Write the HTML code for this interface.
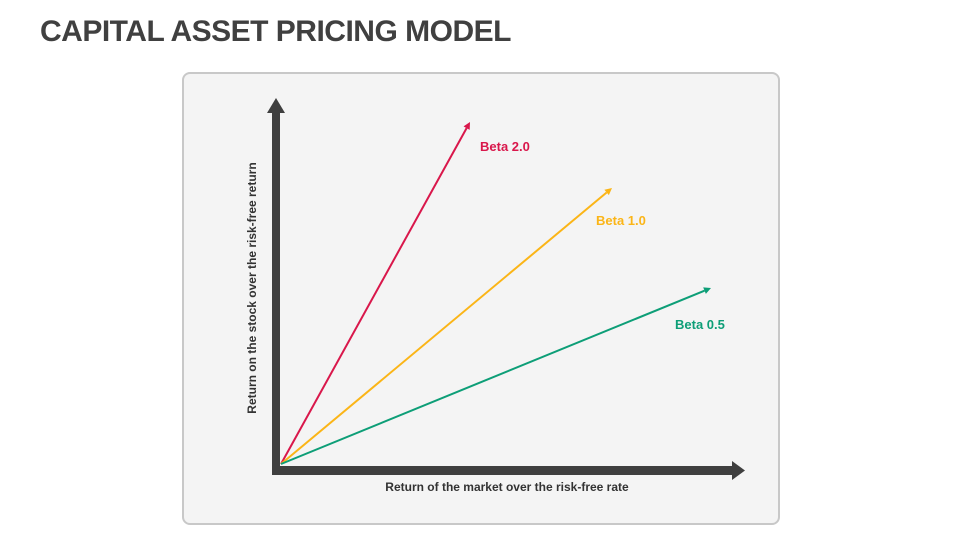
<!DOCTYPE html>
<html><head><meta charset="utf-8"><style>
body{margin:0;width:960px;height:540px;background:#fff;overflow:hidden;font-family:"Liberation Sans",sans-serif;}
#title{position:absolute;left:40px;top:15px;font-size:30px;font-weight:bold;color:#404040;letter-spacing:-0.5px;}
#panel{position:absolute;left:182px;top:72px;width:594px;height:449px;background:#f4f4f4;border:2px solid #c8c8c8;border-radius:8px;}
</style></head><body>
<div id="title">CAPITAL ASSET PRICING MODEL</div>
<div id="panel"></div>
<svg id="chart" width="960" height="540" style="position:absolute;left:0;top:0">
<g>
<rect x="272" y="112" width="8" height="363" fill="#3f3f3f"/>
<polygon points="267,113 276,98 285,113" fill="#3f3f3f"/>
</g>
<g>
<rect x="272" y="466" width="462" height="9" fill="#3f3f3f"/>
<polygon points="732,461 745,470.5 732,480" fill="#3f3f3f"/>
</g>
<text x="256" y="288" transform="rotate(-90 256 288)" text-anchor="middle" font-size="12" font-weight="bold" fill="#333">Return on the stock over the risk-free return</text>
<text x="507" y="491" text-anchor="middle" font-size="12" font-weight="bold" fill="#333">Return of the market over the risk-free rate</text>
<g id="series"></g>
</svg>
<script>
const seriesNames=["Beta 2.0","Beta 1.0","Beta 0.5"];
const endX=[189,331,430];
const endY=[342,276,176];
const colors=["#d9174b","#fbb517","#0d9e77"];
const labelOffX=[10,-16,-36];
const labelOffY=[29,37,41];
function xS(v){return 281+v;}
function yS(v){return 464-v;}
const g=document.getElementById('series');
const NS="http://www.w3.org/2000/svg";
seriesNames.forEach((n,i)=>{
  const x2=xS(endX[i]),y2=yS(endY[i]),x1=xS(0),y1=yS(0);
  const ang=Math.atan2(y2-y1,x2-x1);
  const L=7,W=3.5;
  const bx=x2-L*Math.cos(ang),by=y2-L*Math.sin(ang);
  const line=document.createElementNS(NS,'line');
  
  
  line.setAttribute('x1',x1);line.setAttribute('y1',y1);
  line.setAttribute('x2',bx);line.setAttribute('y2',by);
  line.setAttribute('stroke',colors[i]);line.setAttribute('stroke-width','2');
  g.appendChild(line);
  const p=document.createElementNS(NS,'polygon');
  
  
  const px=-Math.sin(ang),py=Math.cos(ang);
  p.setAttribute('points',`${x2},${y2} ${bx+px*W},${by+py*W} ${bx-px*W},${by-py*W}`);
  p.setAttribute('fill',colors[i]);
  g.appendChild(p);
  const t=document.createElementNS(NS,'text');
  
  
  t.setAttribute('x',x2+labelOffX[i]);t.setAttribute('y',y2+labelOffY[i]);
  t.setAttribute('font-size','13');t.setAttribute('font-weight','bold');
  t.setAttribute('fill',colors[i]);
  t.textContent=n;
  g.appendChild(t);
});
</script>
</body></html>
